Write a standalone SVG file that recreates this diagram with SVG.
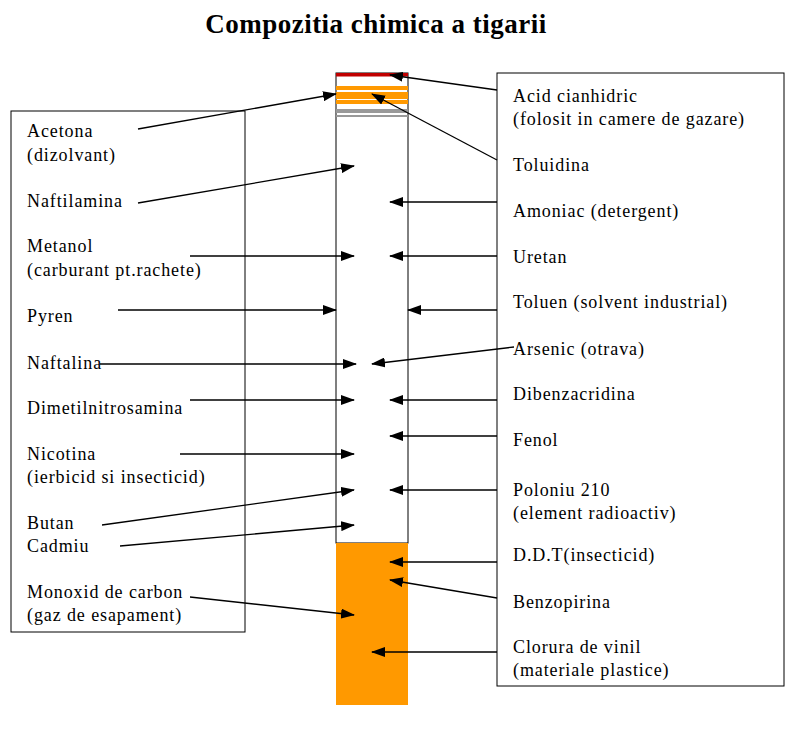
<svg xmlns="http://www.w3.org/2000/svg" width="799" height="737" viewBox="0 0 799 737">
<style>
text{font-family:"Liberation Serif",serif;font-size:18px;letter-spacing:0.9px;fill:#000}
.box{fill:#fff;stroke:#000;stroke-width:1}
.c line{stroke:#000;stroke-width:1.3;marker-end:url(#a)}
</style>
<defs><marker id="a" markerWidth="14" markerHeight="10" refX="13" refY="5" orient="auto" markerUnits="userSpaceOnUse"><path d="M0,0L14,5L0,10z" fill="#000"/></marker></defs>
<rect width="799" height="737" fill="#fff"/>
<text x="376" y="33" text-anchor="middle" style="font-size:27px;font-weight:bold;letter-spacing:0.5px">Compozitia chimica a tigarii</text>
<g id="leftbox"><rect class="box" x="11" y="111" width="234" height="521"/>
<text x="27" y="137">Acetona</text><text x="27" y="161">(dizolvant)</text>
<text x="27" y="207">Naftilamina</text>
<text x="27" y="252">Metanol</text><text x="27" y="276">(carburant pt.rachete)</text>
<text x="27" y="322">Pyren</text>
<text x="27" y="369">Naftalina</text>
<text x="27" y="414">Dimetilnitrosamina</text>
<text x="27" y="460">Nicotina</text><text x="27" y="483">(ierbicid si insecticid)</text>
<text x="27" y="529">Butan</text><text x="27" y="552">Cadmiu</text>
<text x="27" y="598">Monoxid de carbon</text><text x="27" y="621">(gaz de esapament)</text>
</g>
<g id="rightbox"><rect class="box" x="497" y="73" width="287" height="613"/>
<text x="513" y="102">Acid cianhidric</text><text x="513" y="125">(folosit in camere de gazare)</text>
<text x="513" y="171">Toluidina</text>
<text x="513" y="217">Amoniac (detergent)</text>
<text x="513" y="263">Uretan</text>
<text x="513" y="308">Toluen (solvent industrial)</text>
<text x="513" y="355">Arsenic (otrava)</text>
<text x="513" y="400">Dibenzacridina</text>
<text x="513" y="446">Fenol</text>
<text x="513" y="496">Poloniu 210</text><text x="513" y="519">(element radioactiv)</text>
<text x="513" y="561">D.D.T(insecticid)</text>
<text x="513" y="608">Benzopirina</text>
<text x="513" y="653">Clorura de vinil</text><text x="513" y="676">(materiale plastice)</text>
</g>
<g id="cigarette">
<rect x="336" y="73" width="72" height="470" fill="#fff" stroke="#000"/>
<rect x="336" y="73" width="72" height="3.5" fill="#c00000"/>
<rect x="336" y="86" width="72" height="4" fill="#ff9900"/>
<rect x="336" y="92" width="72" height="7" fill="#ff9900"/>
<rect x="336" y="100" width="72" height="4" fill="#ff9900"/>
<rect x="336" y="109" width="72" height="4" fill="#999"/>
<rect x="336" y="115" width="72" height="2" fill="#999"/>
<rect x="336" y="543" width="72" height="162" fill="#ff9900"/>
</g>
<g class="c">
<line x1="497" y1="90" x2="390" y2="75"/>
<line x1="138" y1="129" x2="336" y2="94"/>
<line x1="497" y1="160" x2="372" y2="94"/>
<line x1="138" y1="203" x2="354" y2="166"/>
<line x1="497" y1="202" x2="390" y2="202"/>
<line x1="190" y1="256" x2="354" y2="256"/>
<line x1="497" y1="256" x2="390" y2="256"/>
<line x1="118" y1="310" x2="336" y2="310"/>
<line x1="497" y1="310" x2="408" y2="310"/>
<line x1="100" y1="364" x2="356" y2="364"/>
<line x1="514" y1="347" x2="372" y2="364"/>
<line x1="190" y1="400" x2="354" y2="400"/>
<line x1="497" y1="400" x2="390" y2="400"/>
<line x1="497" y1="436" x2="390" y2="436"/>
<line x1="180" y1="454" x2="354" y2="454"/>
<line x1="102" y1="525" x2="354" y2="490"/>
<line x1="497" y1="490" x2="390" y2="490"/>
<line x1="120" y1="546" x2="354" y2="525"/>
<line x1="497" y1="562" x2="390" y2="562"/>
<line x1="497" y1="598" x2="390" y2="580"/>
<line x1="190" y1="597" x2="354" y2="615"/>
<line x1="497" y1="652" x2="372" y2="652"/>
</g>
</svg>
